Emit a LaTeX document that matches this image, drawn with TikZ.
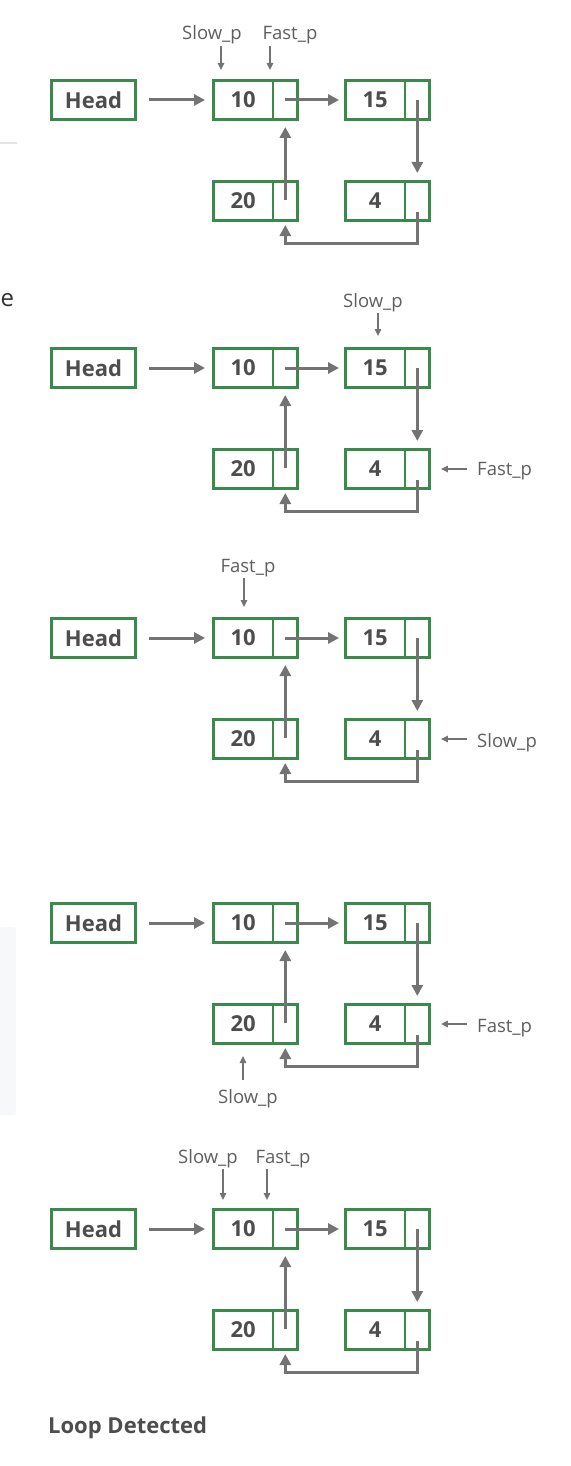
\documentclass[tikz,border=0pt]{standalone}
\usepackage{fontspec}
\setmainfont{Open Sans}
\usetikzlibrary{arrows.meta}
\definecolor{gfg}{RGB}{58,138,76}
\definecolor{arrg}{RGB}{115,115,115}
\definecolor{txt}{RGB}{77,77,77}
\definecolor{lblc}{RGB}{95,95,95}
\definecolor{pagefaint}{RGB}{247,248,250}
\definecolor{rulefaint}{RGB}{228,228,228}
\tikzset{
  cell/.style={draw=gfg, line width=2.6pt, minimum height=39.4pt, inner sep=0pt,
    font=\fontsize{22}{26}\selectfont\bfseries, text=txt},
  datacell/.style={cell, minimum width=59.7pt},
  ptrcell/.style={cell, minimum width=24.7pt},
  headcell/.style={cell, minimum width=84.4pt},
  arr/.style={draw=arrg, line width=3pt, -{Triangle[length=11pt,width=11pt]}},
  parr/.style={draw=arrg, line width=1.5pt, -{Triangle[length=7pt,width=6.5pt]}},
  lbl/.style={font=\fontsize{18.5}{22}\selectfont, text=lblc, inner sep=0pt},
}
\newcommand{\llist}[1]{%
  \node[headcell] (#1h) at (93.5,100) {Head};
  \node[datacell] (#1a) at (243.2,100) {10};
  \node[ptrcell] (#1pa) at (285.3,100) {};
  \node[datacell] (#1b) at (375.2,100) {15};
  \node[ptrcell] (#1pb) at (417.3,100) {};
  \node[datacell] (#1d) at (243.2,201) {20};
  \node[ptrcell] (#1pd) at (285.3,201) {};
  \node[datacell] (#1c) at (375.2,201) {4};
  \node[ptrcell] (#1pc) at (417.3,201) {};
  \draw[arr, shorten <=12pt, shorten >=7pt] (#1h) -- (#1a);
  \draw[arr, shorten >=5pt] (#1pa.center) -- (#1b);
  \draw[arr, shorten >=7pt] (#1pb.center) -- (#1pc);
  \draw[arr, shorten >=3pt] ([yshift=-11pt]#1pc.center) -- ++(0,31) -| (#1pd.south);
  \draw[arr, shorten >=6pt] ([yshift=1pt]#1pd.center) -- (#1pa.south);
}
\begin{document}
\begin{tikzpicture}[x=1pt,y=-1pt]
\useasboundingbox (0,0) rectangle (570,1466);
\fill[white] (0,0) rectangle (570,1466);
% faint page fragments at the left edge
\draw[rulefaint, line width=1.5pt] (0,143) -- (17,143);
\fill[pagefaint, rounded corners=3pt] (-5,927) rectangle (16,1115);
\node[font=\fontsize{24}{28}\selectfont, text=black!80, anchor=base west, inner sep=0pt] (frag) at (0.5,306) {e};

% ---- panel 1
\begin{scope}
  \llist{A}
  \node[lbl, anchor=base] (As) at (212,40) {Slow\_p};
  \node[lbl, anchor=base] (Af) at (290,40) {Fast\_p};
  \coordinate (Asa) at (221,70);
  \coordinate (Afa) at (270,70);
  \draw[parr, shorten <=1pt] (Asa |- As.south) -- (Asa);
  \draw[parr, shorten <=1pt] (Afa |- Af.south) -- (Afa);
\end{scope}

% ---- panel 2
\begin{scope}[yshift=-268pt]
  \llist{B}
  \node[lbl, anchor=base] (Bs) at (373,39.5) {Slow\_p};
  \coordinate (Bsa) at (378,68);
  \draw[parr, shorten <=1pt] (Bsa |- Bs.south) -- (Bsa);
  \node[lbl, anchor=base west] (Bf) at (477,207.5) {Fast\_p};
  \draw[parr, shorten <=10pt, shorten >=10pt] (Bf.west |- Bpc.center) -- (Bpc.east);
\end{scope}

% ---- panel 3
\begin{scope}[yshift=-538pt]
  \llist{C}
  \node[lbl, anchor=base] (Cf) at (248,34.5) {Fast\_p};
  \coordinate (Cfa) at (244,69);
  \draw[parr, shorten <=1pt] (Cfa |- Cf.south) -- (Cfa);
  \node[lbl, anchor=base west] (Cs) at (477,209.5) {Slow\_p};
  \draw[parr, shorten <=10pt, shorten >=10pt] (Cs.west |- Cpc.center) -- (Cpc.east);
\end{scope}

% ---- panel 4
\begin{scope}[yshift=-823pt]
  \llist{D}
  \node[lbl, anchor=base west] (Df) at (477,209.5) {Fast\_p};
  \draw[parr, shorten <=10pt, shorten >=10pt] (Df.west |- Dpc.center) -- (Dpc.east);
  \node[lbl, anchor=base] (Ds) at (248,280.5) {Slow\_p};
  \coordinate (Dsa) at (243,233);
  \draw[parr, shorten <=9pt] (Dsa |- Ds.north) -- (Dsa);
\end{scope}

% ---- panel 5
\begin{scope}[yshift=-1129pt]
  \llist{E}
  \node[lbl, anchor=base] (Es) at (208,34.5) {Slow\_p};
  \node[lbl, anchor=base] (Ef) at (283,34.5) {Fast\_p};
  \coordinate (Esa) at (223,71);
  \coordinate (Efa) at (267,71);
  \draw[parr, shorten <=1pt] (Esa |- Es.south) -- (Esa);
  \draw[parr, shorten <=1pt] (Efa |- Ef.south) -- (Efa);
\end{scope}

\node[font=\fontsize{22}{26}\selectfont\bfseries, text=txt, anchor=base west, inner sep=0pt] (loop) at (48,1433) {Loop Detected};
\end{tikzpicture}
\end{document}
